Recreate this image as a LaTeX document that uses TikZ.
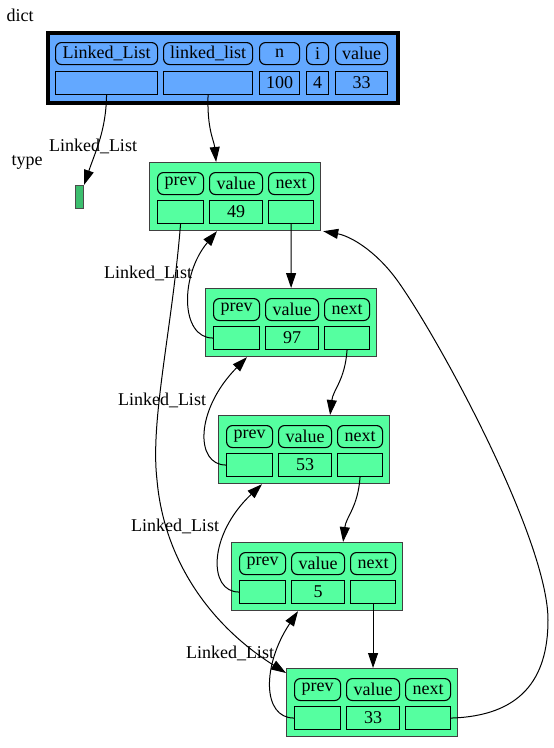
\documentclass[tikz,border=0pt]{standalone}
\usepackage{fontspec}
\setmainfont{Liberation Serif}
\usetikzlibrary{arrows.meta}
\definecolor{dictblue}{RGB}{99,168,255}
\definecolor{listgreen}{RGB}{85,255,160}
\definecolor{typegreen}{RGB}{60,190,110}

\begin{document}
\begin{tikzpicture}[x=1pt, y=-1pt, font=\fontsize{18}{21}\selectfont,
    field/.style={draw, rounded corners=6pt, anchor=north west, inner sep=0pt,
                  minimum height=22, line width=1.1pt},
    cell/.style={draw, anchor=north west, inner sep=0pt, minimum height=23, line width=1.1pt},
    listbox/.style={draw=black!75, fill=listgreen, anchor=north west, line width=1.2pt,
                    minimum width=171, minimum height=68, inner sep=0pt},
    arr/.style={-{Triangle[length=15pt,width=10pt]}, line width=1pt}]
    \useasboundingbox (0,0) rectangle (554,748);

    % dict
    \node (dictlabel) at (20,15) {dict};
    \node[draw, line width=4pt, fill=dictblue, anchor=north west, inner sep=0pt,
          minimum width=350, minimum height=70] (dict) at (46,31) {};
    \node[field, minimum width=102] (dict-LL) at (55,42) {Linked\_List};
    \node[field, minimum width=89] (dict-ll) at (163,42) {linked\_list};
    \node[field, minimum width=40] (dict-n) at (259,42) {n};
    \node[field, minimum width=22] (dict-i) at (306,42) {i};
    \node[field, minimum width=52] (dict-v) at (335,42) {value};
    \node[cell, minimum width=102] (dict-LLc) at (55,71) {};
    \node[cell, minimum width=89] (dict-llc) at (163,71) {};
    \node[cell, minimum width=40] (dict-nc) at (259,71) {100};
    \node[cell, minimum width=22] (dict-ic) at (306,71) {4};
    \node[cell, minimum width=52] (dict-vc) at (335,71) {33};

    % type
    \node (typelabel) at (27,162) {type};
    \node[draw=black!70, fill=typegreen, line width=1pt, anchor=north west, inner sep=0pt,
          minimum width=8, minimum height=23] (type) at (75,185) {};

    % list nodes
    \foreach \nm/\xx/\yy/\val in {a/149/162/49, b/205/288/97, c/218/415/53, d/231/542/5, e/286/668/33} {
        \node[listbox] (\nm) at (\xx,\yy) {};
        \node[field, minimum width=46] (\nm-pl) at (\xx+8,\yy+10) {prev};
        \node[field, minimum width=53] (\nm-vl) at (\xx+60,\yy+10) {value};
        \node[field, minimum width=45] (\nm-nl) at (\xx+119,\yy+10) {next};
        \node[cell, minimum width=46] (\nm-pc) at (\xx+8,\yy+38) {};
        \node[cell, minimum width=53] (\nm-vc) at (\xx+60,\yy+38) {\val};
        \node[cell, minimum width=45] (\nm-nc) at (\xx+119,\yy+38) {};
    }

    % edge labels
    \node (lab1) at (93,146) {Linked\_List};
    \node (lab2) at (148,273) {Linked\_List};
    \node (lab3) at (162,400) {Linked\_List};
    \node (lab4) at (175,526) {Linked\_List};
    \node (lab5) at (230,653) {Linked\_List};

    % edges from dict
    \draw[arr] (dict-LLc.south) .. controls (106,130) and (96,150) .. (type.north east);
    \draw[arr] (dict-llc.south) .. controls (207,130) and (214,140) .. ([xshift=-19pt]a.north);

    % next pointers
    \draw[arr] (a-nc.south) -- (b.north);
    \draw[arr] (b-nc.south) .. controls (345,380) and (333,390) .. ([xshift=26pt]c.north);
    \draw[arr] (c-nc.south) .. controls (358,507) and (346,517) .. ([xshift=26pt]d.north);
    \draw[arr] (d-nc.south) -- (e-vl.north |- e.north);

    % prev pointers
    \draw[arr] (b-pc.west) .. controls (180,338) and (180,275) .. ([xshift=68pt]a.south west);
    \draw[arr] (c-pc.west) .. controls (195,465) and (195,410) .. ([xshift=42pt]b.south west);
    \draw[arr] (d-pc.west) .. controls (208,592) and (208,535) .. ([xshift=44pt]c.south west);
    \draw[arr] (e-pc.west) .. controls (262,718) and (262,665) .. ([xshift=67pt]d.south west);

    % long links
    \draw[arr] (a-pc.south) .. controls (172,330) and (150,420) .. (157,480)
        .. controls (164,560) and (210,625) .. ([yshift=-5pt]e.north west);
    \draw[arr] (e-nc.east) .. controls (520,716) and (548,680) .. (548,620)
        .. controls (548,540) and (440,340) .. (397,280)
        .. controls (375,250) and (350,236) .. ([xshift=2pt]a.south east);
\end{tikzpicture}
\end{document}
